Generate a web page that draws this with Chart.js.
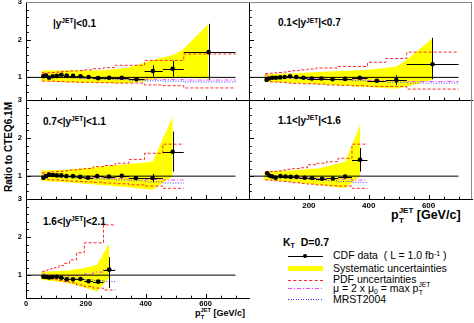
<!DOCTYPE html>
<html>
<head>
<meta charset="utf-8">
<script src="https://cdn.jsdelivr.net/npm/chart.js@4.4.1/dist/chart.umd.min.js"></script>
<style>
html,body{margin:0;padding:0;background:#fff}
#wrap{position:relative;width:474px;height:323px;overflow:hidden;font-family:"Liberation Sans",Arial,Helvetica,sans-serif;color:#000}
#wrap canvas{position:absolute}
.t{position:absolute;white-space:nowrap;font-weight:bold}
.sup{position:relative;font-size:0.66em;top:-0.55em}
.sub{position:relative;font-size:0.66em;top:0.35em}
.scr{display:inline-block;position:relative;font-size:0.64em}
.scr .hi{position:relative;top:-0.75em}
.scr .lo{position:absolute;left:0.05em;top:0.55em}
.leg{position:absolute;white-space:nowrap;font-size:10.5px;line-height:10.5px}
.sym{position:absolute}
.xl{position:absolute;white-space:nowrap;font-weight:bold;transform:translateX(-50%);z-index:5}
</style>
</head>
<body>
<div id="wrap">
  <div class="t" style="left:9px;top:147px;font-size:10px;line-height:10px;transform:translate(-50%,-50%) rotate(-90deg)">Ratio to CTEQ6.1M</div>

  <div class="t" style="left:53px;top:18.8px;font-size:10px;line-height:10px">|y<span class="sup">JET</span>|&lt;0.1</div>
  <div class="t" style="left:278px;top:18.2px;font-size:10px;line-height:10px">0.1&lt;|y<span class="sup">JET</span>|&lt;0.7</div>
  <div class="t" style="left:43px;top:116.5px;font-size:10px;line-height:10px">0.7&lt;|y<span class="sup">JET</span>|&lt;1.1</div>
  <div class="t" style="left:278px;top:115.5px;font-size:10px;line-height:10px">1.1&lt;|y<span class="sup">JET</span>|&lt;1.6</div>
  <div class="t" style="left:43px;top:216.5px;font-size:10px;line-height:10px">1.6&lt;|y<span class="sup">JET</span>|&lt;2.1</div>

  <div class="t" style="left:195px;top:308px;font-size:9px;line-height:10px">p<span class="scr"><span class="hi">JET</span><span class="lo">T</span></span> [GeV/c]</div>
  <div class="t" style="left:391px;top:209px;font-size:12.5px;line-height:13px">p<span class="scr"><span class="hi">JET</span><span class="lo">T</span></span> [GeV/c]</div>

  <div class="t" style="left:283px;top:236.5px;font-size:10.5px;line-height:10.5px">K<span class="sub">T</span>&nbsp; D=0.7</div>

  <div class="sym" style="left:288px;top:255.5px;width:35px;height:0;border-top:1px solid #000"></div>
  <div class="sym" style="left:303px;top:254px;width:4px;height:4px;border-radius:50%;background:#000"></div>
  <div class="leg" style="left:333px;top:250.4px">CDF data&nbsp; ( L = 1.0 fb<span class="sup">-1</span> )</div>

  <div class="sym" style="left:288px;top:265.5px;width:35px;height:5.5px;background:#ffff00"></div>
  <div class="leg" style="left:333px;top:262.8px">Systematic uncertainties</div>

  <div class="sym" style="left:288px;top:279.5px;width:35px;height:0;border-top:1px dashed #ff2020"></div>
  <div class="leg" style="left:333px;top:274.4px">PDF uncertainties</div>

  <div class="sym" style="left:288px;top:287.5px;width:35px;height:1px;background:repeating-linear-gradient(90deg,#ff40ff 0 4px,transparent 4px 6px,#ff40ff 6px 7px,transparent 7px 9px)"></div>
  <div class="leg" style="left:333px;top:282.8px">&mu; = 2 x &mu;<span class="sub">0</span> = max p<span class="scr"><span class="hi">JET</span><span class="lo">T</span></span></div>

  <div class="sym" style="left:288px;top:298.5px;width:35px;height:1px;background:repeating-linear-gradient(90deg,#3030ff 0 1px,transparent 1px 2.5px)"></div>
  <div class="leg" style="left:333px;top:293.8px">MRST2004</div>
</div>

<script>
// Bin edges in jet pT [GeV/c], shared by all rapidity regions
const binEdges = [54, 62, 72, 83, 96, 110, 127, 146, 169, 195, 224, 259, 298, 344, 396, 457, 527, 700];

// |y| < 0.1
const pt1     = [58, 67, 77, 89, 103, 118, 136, 157, 182, 209, 241, 278, 320, 369, 424, 490, 610];
const ratio1  = [1.03, 1.05, 0.99, 1.03, 1.04, 1.07, 1.05, 1.04, 1.03, 1.01, 0.98, 0.99, 0.99, 0.95, 1.17, 1.23, 1.67];
const errHi1  = [0.01, 0.01, 0.01, 0.01, 0.01, 0.01, 0.01, 0.01, 0.01, 0.01, 0.01, 0.015, 0.02, 0.03, 0.15, 0.21, 0.75];
const errLo1  = [0.01, 0.01, 0.01, 0.01, 0.01, 0.01, 0.01, 0.01, 0.01, 0.01, 0.01, 0.015, 0.02, 0.03, 0.15, 0.21, 0.73];
const sysPt1  = [50, 58, 137, 248, 336, 392, 437, 492, 523, 610];
const sysHi1  = [1.18, 1.18, 1.19, 1.18, 1.25, 1.38, 1.49, 1.6, 1.73, 2.42];
const sysLo1  = [0.9, 0.9, 0.87, 0.85, 0.84, 0.9, 0.97, 0.98, 0.99, 0.97];
const pdfHi1  = [1.12, 1.12, 1.12, 1.13, 1.14, 1.15, 1.16, 1.17, 1.18, 1.2, 1.23, 1.26, 1.32, 1.32, 1.45, 1.45, 1.62];
const pdfLo1  = [0.9, 0.9, 0.9, 0.9, 0.89, 0.89, 0.88, 0.88, 0.87, 0.87, 0.86, 0.86, 0.85, 0.85, 0.8, 0.78, 0.72];
const mu1     = [1.1, 1.06, 1.03, 1.02, 1.01, 1.0, 1.0, 0.99, 0.99, 0.98, 0.98, 0.97, 0.96, 0.96, 0.95, 0.94, 0.93];
const mrst1   = [1.02, 1.02, 1.01, 1.01, 1.0, 1.0, 0.99, 0.99, 0.98, 0.97, 0.96, 0.95, 0.94, 0.92, 0.91, 0.9, 0.88];

// 0.1 < |y| < 0.7
const pt2     = [59, 67, 78, 90, 104, 119, 137, 158, 182, 210, 242, 279, 321, 370, 427, 492, 613];
const ratio2  = [0.94, 0.97, 0.99, 0.99, 1.0, 1.01, 1.03, 1.01, 0.99, 0.97, 0.97, 0.95, 0.96, 0.99, 0.91, 0.93, 1.35];
const errHi2  = [0.01, 0.01, 0.01, 0.01, 0.01, 0.01, 0.01, 0.01, 0.01, 0.01, 0.01, 0.01, 0.015, 0.02, 0.05, 0.13, 0.7];
const errLo2  = [0.01, 0.01, 0.01, 0.01, 0.01, 0.01, 0.01, 0.01, 0.01, 0.01, 0.01, 0.01, 0.015, 0.02, 0.05, 0.13, 0.4];
const sysPt2  = [50, 59, 137, 280, 402, 492, 524, 613];
const sysHi2  = [1.08, 1.08, 1.1, 1.16, 1.2, 1.29, 1.45, 2.04];
const sysLo2  = [0.88, 0.88, 0.86, 0.8, 0.74, 0.7, 0.75, 0.94];
const pdfHi2  = [1.1, 1.1, 1.11, 1.12, 1.13, 1.14, 1.16, 1.18, 1.2, 1.22, 1.25, 1.25, 1.29, 1.29, 1.4, 1.5, 1.67];
const pdfLo2  = [0.89, 0.89, 0.88, 0.88, 0.87, 0.86, 0.85, 0.84, 0.83, 0.83, 0.82, 0.8, 0.79, 0.78, 0.76, 0.76, 0.69];
const mu2     = [1.07, 1.04, 1.02, 1.01, 1.0, 0.99, 0.99, 0.98, 0.97, 0.97, 0.96, 0.95, 0.94, 0.94, 0.92, 0.91, 0.89];
const mrst2   = [1.01, 1.0, 1.0, 1.0, 0.99, 0.99, 0.98, 0.98, 0.97, 0.96, 0.95, 0.94, 0.93, 0.91, 0.89, 0.87, 0.85];

// 0.7 < |y| < 1.1
const pt3     = [58, 67, 77, 90, 103, 118, 135, 157, 181, 207, 238, 277, 320, 367, 423, 490];
const ratio3  = [0.96, 1.0, 1.04, 1.03, 1.02, 1.02, 1.0, 1.0, 0.98, 0.96, 1.0, 0.99, 1.01, 0.95, 0.95, 1.64];
const errHi3  = [0.01, 0.01, 0.01, 0.01, 0.01, 0.01, 0.01, 0.01, 0.01, 0.01, 0.01, 0.015, 0.02, 0.03, 0.11, 0.53];
const errLo3  = [0.01, 0.01, 0.01, 0.01, 0.01, 0.01, 0.01, 0.01, 0.01, 0.01, 0.01, 0.015, 0.02, 0.03, 0.11, 0.52];
const sysPt3  = [50, 58, 135, 248, 320, 423, 490];
const sysHi3  = [1.15, 1.15, 1.17, 1.25, 1.3, 1.38, 2.56];
const sysLo3  = [0.87, 0.87, 0.84, 0.77, 0.72, 0.64, 1.0];
const pdfHi3  = [1.09, 1.09, 1.1, 1.11, 1.12, 1.13, 1.14, 1.16, 1.18, 1.2, 1.25, 1.28, 1.34, 1.44, 1.6, 1.84];
const pdfLo3  = [0.92, 0.92, 0.91, 0.9, 0.9, 0.89, 0.88, 0.87, 0.86, 0.85, 0.84, 0.82, 0.8, 0.77, 0.74, 0.68];
const mu3     = [1.06, 1.04, 1.02, 1.01, 1.0, 1.0, 0.99, 0.98, 0.98, 0.97, 0.96, 0.95, 0.94, 0.93, 0.91, 0.9];
const mrst3   = [1.01, 1.0, 1.0, 0.99, 0.99, 0.98, 0.98, 0.97, 0.96, 0.95, 0.93, 0.92, 0.9, 0.88, 0.85, 0.82];

// 1.1 < |y| < 1.6
const pt4     = [61, 69, 78, 89, 105, 122, 139, 159, 186, 211, 244, 280, 321, 371];
const ratio4  = [1.075, 1.01, 0.99, 0.96, 1.0, 0.99, 0.98, 0.98, 0.96, 0.95, 0.93, 0.94, 0.99, 1.43];
const errHi4  = [0.01, 0.01, 0.01, 0.01, 0.01, 0.01, 0.01, 0.01, 0.01, 0.015, 0.02, 0.03, 0.04, 0.31];
const errLo4  = [0.01, 0.01, 0.01, 0.01, 0.01, 0.01, 0.01, 0.01, 0.01, 0.015, 0.02, 0.03, 0.04, 0.31];
const sysPt4  = [50, 61, 139, 235, 321, 371];
const sysHi4  = [1.12, 1.12, 1.15, 1.21, 1.38, 2.34];
const sysLo4  = [0.9, 0.9, 0.85, 0.77, 0.68, 0.99];
const pdfHi4  = [1.11, 1.11, 1.12, 1.13, 1.14, 1.16, 1.18, 1.2, 1.22, 1.3, 1.34, 1.38, 1.47, 1.84];
const pdfLo4  = [0.9, 0.9, 0.89, 0.88, 0.87, 0.86, 0.85, 0.83, 0.81, 0.79, 0.77, 0.75, 0.74, 0.68];
const mu4     = [1.05, 1.03, 1.01, 1.0, 1.0, 0.99, 0.98, 0.97, 0.96, 0.95, 0.94, 0.93, 0.92, 0.9];
const mrst4   = [1.0, 1.0, 0.99, 0.99, 0.98, 0.97, 0.96, 0.95, 0.94, 0.92, 0.9, 0.88, 0.86, 0.84];

// 1.6 < |y| < 2.1
const pt5     = [58, 67, 77, 89, 103, 118, 136, 157, 182, 209, 241, 278];
const ratio5  = [0.96, 0.95, 0.94, 0.95, 0.96, 0.935, 0.89, 0.89, 0.9, 0.84, 0.83, 1.145];
const errHi5  = [0.01, 0.01, 0.01, 0.01, 0.01, 0.01, 0.01, 0.01, 0.015, 0.02, 0.04, 0.33];
const errLo5  = [0.01, 0.01, 0.01, 0.01, 0.01, 0.01, 0.01, 0.01, 0.015, 0.02, 0.04, 0.48];
const sysPt5  = [50, 58, 136, 192, 237, 278];
const sysHi5  = [1.09, 1.09, 1.12, 1.18, 1.27, 1.84];
const sysLo5  = [0.87, 0.87, 0.8, 0.68, 0.57, 0.94];
const pdfHi5  = [1.1, 1.12, 1.14, 1.17, 1.2, 1.25, 1.31, 1.4, 1.59, 1.85, 1.85, 2.32];
const pdfLo5  = [0.94, 0.93, 0.92, 0.9, 0.88, 0.86, 0.83, 0.8, 0.74, 0.7, 0.66, 0.61];
const mu5     = [1.04, 1.02, 1.0, 0.99, 0.98, 0.98, 0.98, 0.99, 1.0, 1.03, 1.08, 1.15];
const mrst5   = [0.99, 0.98, 0.97, 0.96, 0.95, 0.94, 0.93, 0.92, 0.9, 0.88, 0.86, 0.83];

// Axis tick labels
const xTickLabels = [0, 200, 400, 600];
const yTickLabels = [1, 2, 3];

// ---- layout of the pads ----
const FONT = '"Liberation Sans", Arial, Helvetica, sans-serif';
const COL_X = [26, 249];        // left edge of the plotting area in each column
const PANEL_W = 223;
const ROWS = [{ top: 2, h: 98 }, { top: 100, h: 99 }, { top: 199, h: 99 }];
const Y_AXIS_W = 26;
const PAD_TOP = 6;
const X_MIN = 0, X_MAX = 745, Y_MIN = 0.4, Y_MAX = 3;
const X_MAJOR = 200, X_MINOR = 50, Y_MAJOR = 1, Y_MINOR = 0.2;

const panels = [
  { col: 0, row: 0, pt: pt1, ratio: ratio1, eHi: errHi1, eLo: errLo1, sysX: sysPt1, sysHi: sysHi1, sysLo: sysLo1, pdfHi: pdfHi1, pdfLo: pdfLo1, mu: mu1, mrst: mrst1, xLabels: null, topLine: true },
  { col: 1, row: 0, pt: pt2, ratio: ratio2, eHi: errHi2, eLo: errLo2, sysX: sysPt2, sysHi: sysHi2, sysLo: sysLo2, pdfHi: pdfHi2, pdfLo: pdfLo2, mu: mu2, mrst: mrst2, xLabels: null, topLine: true, rightLine: true },
  { col: 0, row: 1, pt: pt3, ratio: ratio3, eHi: errHi3, eLo: errLo3, sysX: sysPt3, sysHi: sysHi3, sysLo: sysLo3, pdfHi: pdfHi3, pdfLo: pdfLo3, mu: mu3, mrst: mrst3, xLabels: null },
  { col: 1, row: 1, pt: pt4, ratio: ratio4, eHi: errHi4, eLo: errLo4, sysX: sysPt4, sysHi: sysHi4, sysLo: sysLo4, pdfHi: pdfHi4, pdfLo: pdfLo4, mu: mu4, mrst: mrst4, xLabels: xTickLabels.filter(v => v > 0), xFont: 8, rightLine: true },
  { col: 0, row: 2, pt: pt5, ratio: ratio5, eHi: errHi5, eLo: errLo5, sysX: sysPt5, sysHi: sysHi5, sysLo: sysLo5, pdfHi: pdfHi5, pdfLo: pdfLo5, mu: mu5, mrst: mrst5, xLabels: xTickLabels, xFont: 7.5 }
];

// step-histogram vertices: value of each bin from its low edge, closed at the last high edge
function histPoints(edges, vals) {
  const pts = vals.map((v, i) => ({ x: edges[i], y: v }));
  pts.push({ x: edges[vals.length], y: vals[vals.length - 1] });
  return pts;
}
function xyPoints(xs, ys) {
  return xs.map((x, i) => ({ x: x, y: ys[i] }));
}
const isWhole = v => Math.abs(v - Math.round(v)) < 1e-6;

// inward ROOT-style major/minor ticks and the pad frame
function framePlugin(p) {
  return {
    id: 'frameTicks',
    afterDraw(chart) {
      const { ctx, chartArea: a, scales: { x, y } } = chart;
      ctx.save();
      ctx.strokeStyle = '#000';
      ctx.lineWidth = 1;
      ctx.beginPath();
      const nY = Math.round((Y_MAX - Y_MIN) / Y_MINOR);
      for (let k = 1; k < nY; k++) {
        const v = Y_MIN + k * Y_MINOR;
        const py = Math.round(y.getPixelForValue(v)) + 0.5;
        const len = Math.abs(v / Y_MAJOR - Math.round(v / Y_MAJOR)) < 1e-6 ? 5 : 2.7;
        ctx.moveTo(a.left, py);
        ctx.lineTo(a.left + len, py);
      }
      for (let v = X_MINOR; v < X_MAX; v += X_MINOR) {
        const px = Math.round(x.getPixelForValue(v)) + 0.5;
        const len = v % X_MAJOR === 0 ? 4 : 2.3;
        ctx.moveTo(px, a.bottom);
        ctx.lineTo(px, a.bottom - len);
      }
      ctx.stroke();
      ctx.strokeStyle = '#8a8a8a';
      ctx.beginPath();
      if (p.topLine) {
        ctx.moveTo(a.left, Math.round(a.top) + 0.5);
        ctx.lineTo(a.right, Math.round(a.top) + 0.5);
      }
      if (p.rightLine) {
        ctx.moveTo(Math.round(a.right) - 0.5, a.top);
        ctx.lineTo(Math.round(a.right) - 0.5, a.bottom);
      }
      ctx.stroke();
      ctx.restore();
    }
  };
}

// horizontal bin-width bars and vertical uncertainty bars of the measurement
function errorBarPlugin(p, edges) {
  return {
    id: 'errorBars',
    beforeDatasetDraw(chart, args) {
      if (args.index !== 0) return;
      const { ctx, chartArea: a, scales: { x, y } } = chart;
      ctx.save();
      ctx.beginPath();
      ctx.rect(a.left, a.top, a.right - a.left, a.bottom - a.top);
      ctx.clip();
      ctx.strokeStyle = '#000';
      ctx.lineWidth = 1;
      ctx.beginPath();
      p.ratio.forEach((v, i) => {
        const py = Math.round(y.getPixelForValue(v)) + 0.5;
        ctx.moveTo(x.getPixelForValue(edges[i]), py);
        ctx.lineTo(x.getPixelForValue(edges[i + 1]), py);
        const px = Math.round(x.getPixelForValue(p.pt[i])) + 0.5;
        ctx.moveTo(px, y.getPixelForValue(v + p.eHi[i]));
        ctx.lineTo(px, y.getPixelForValue(v - p.eLo[i]));
      });
      ctx.stroke();
      ctx.restore();
    }
  };
}

const wrap = document.getElementById('wrap');

panels.forEach(p => {
  const edges = binEdges.slice(0, p.ratio.length + 1);
  const row = ROWS[p.row];
  const w = Y_AXIS_W + PANEL_W + 1;
  const h = PAD_TOP + row.h + 2;
  const canvasLeft = COL_X[p.col] - Y_AXIS_W;
  const canvasTop = row.top - PAD_TOP;
  const canvas = document.createElement('canvas');
  canvas.width = w;
  canvas.height = h;
  canvas.style.width = w + 'px';
  canvas.style.height = h + 'px';
  canvas.style.left = canvasLeft + 'px';
  canvas.style.top = canvasTop + 'px';
  wrap.appendChild(canvas);

  const line = (data, color, dash, order, extra) => Object.assign({
    data: data, borderColor: color, borderWidth: 1, borderDash: dash,
    pointRadius: 0, fill: false, order: order, stepped: 'before'
  }, extra || {});

  const chart = new Chart(canvas, {
    type: 'line',
    data: {
      datasets: [
        { label: 'CDF data', data: xyPoints(p.pt, p.ratio), showLine: false,
          pointRadius: 2.3, pointBackgroundColor: '#000', pointBorderColor: '#000', pointBorderWidth: 0, order: 0 },
        line([{ x: 0, y: 1 }, { x: 700, y: 1 }], '#000', [], 1, { stepped: false }),
        line(histPoints(edges, p.mrst), '#3a3aff', [1, 1.6], 2),
        line(histPoints(edges, p.mu), '#ff40ff', [4, 2, 1, 2], 3),
        line(histPoints(edges, p.pdfHi), '#ff2a2a', [3, 2], 4),
        line(histPoints(edges, p.pdfLo), '#ff2a2a', [3, 2], 4),
        { label: 'syst hi', data: xyPoints(p.sysX, p.sysHi), fill: { target: '+1' },
          backgroundColor: '#ffff00', borderColor: 'rgba(0,0,0,0)', borderWidth: 0, pointRadius: 0, order: 5 },
        { label: 'syst lo', data: xyPoints(p.sysX, p.sysLo), fill: false,
          borderColor: 'rgba(0,0,0,0)', borderWidth: 0, pointRadius: 0, order: 5 }
      ]
    },
    options: {
      responsive: false,
      animation: false,
      devicePixelRatio: 1,
      events: [],
      layout: { autoPadding: false, padding: { top: PAD_TOP, left: 0, right: 1, bottom: 2 } },
      elements: { line: { tension: 0 } },
      plugins: { legend: { display: false }, tooltip: { enabled: false } },
      scales: {
        x: {
          type: 'linear', min: X_MIN, max: X_MAX,
          grid: { display: false, drawTicks: false },
          border: { display: true, color: '#000', width: 1 },
          ticks: { display: false, stepSize: X_MAJOR },
          afterFit: s => { s.height = 0; s.paddingLeft = 0; s.paddingRight = 0; }
        },
        y: {
          type: 'linear', min: Y_MIN, max: Y_MAX,
          grid: { display: false, drawTicks: false },
          border: { display: true, color: '#000', width: 1 },
          ticks: {
            display: p.col === 0, stepSize: Y_MAJOR, includeBounds: false, autoSkip: false, padding: 4, color: '#000',
            font: { family: FONT, size: 7.5, weight: 'bold' },
            callback: v => (isWhole(v) && yTickLabels.includes(Math.round(v))) ? String(Math.round(v)) : ''
          },
          afterFit: s => { s.width = Y_AXIS_W; s.paddingTop = 0; s.paddingBottom = 0; }
        }
      }
    },
    plugins: [framePlugin(p), errorBarPlugin(p, edges)]
  });

  // pT tick labels under the bottom pads, placed with the chart's own x scale
  if (p.xLabels) {
    const xs = chart.scales.x;
    const bottom = canvasTop + chart.chartArea.bottom;
    p.xLabels.forEach(v => {
      const d = document.createElement('div');
      d.className = 'xl';
      d.textContent = String(v);
      d.style.left = (canvasLeft + xs.getPixelForValue(v)) + 'px';
      d.style.top = (bottom + 1.5) + 'px';
      d.style.fontSize = p.xFont + 'px';
      d.style.lineHeight = (p.xFont + 1) + 'px';
      wrap.appendChild(d);
    });
  }
});
</script>
</body>
</html>
